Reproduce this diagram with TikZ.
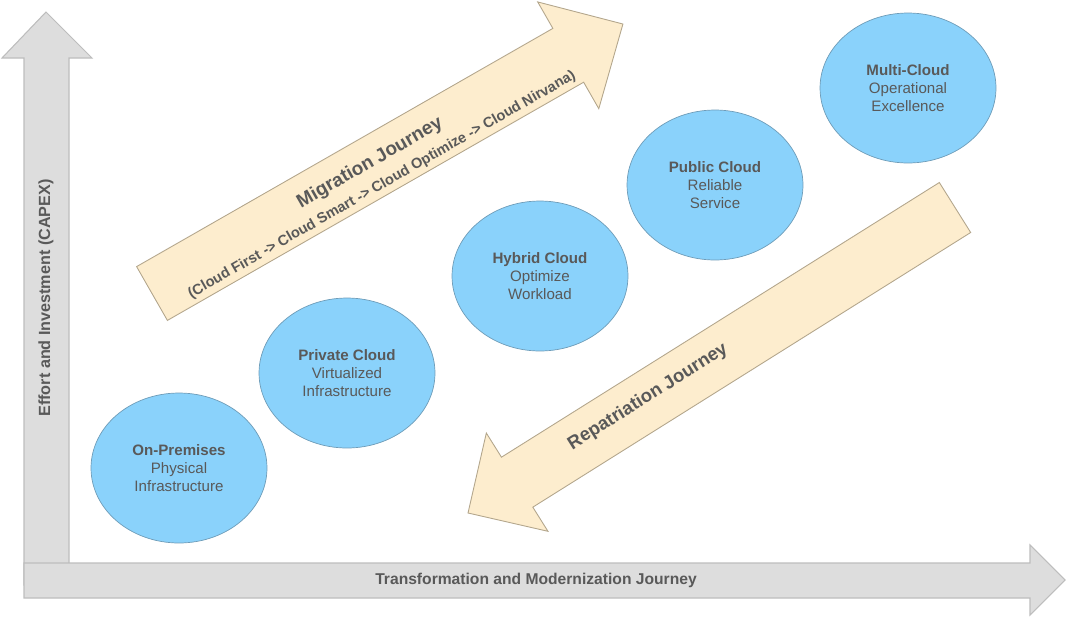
\documentclass[tikz,border=0pt]{standalone}
\usepackage{fontspec}
\setmainfont{Liberation Sans}
\usetikzlibrary{shapes.geometric}
\definecolor{axisgray}{HTML}{DDDDDD}
\definecolor{axisedge}{HTML}{BDBDBD}
\definecolor{cloudblue}{HTML}{8AD2FB}
\definecolor{cloudedge}{HTML}{6E9CB8}
\definecolor{journeyfill}{HTML}{FDEDCE}
\definecolor{journeyedge}{HTML}{B3A68C}
\definecolor{labelgray}{HTML}{595959}

\begin{document}
\begin{tikzpicture}[x=0.02cm,y=-0.02cm,
	axisarrow/.style={fill=axisgray,draw=axisedge,line width=0.6pt},
	journey/.style={fill=journeyfill,draw=journeyedge,line width=0.5pt},
	cloud/.style={ellipse,fill=cloudblue,draw=cloudedge,line width=0.4pt,
		minimum width=3.52cm,minimum height=3cm,inner sep=0pt,align=center,
		text=labelgray,font=\fontsize{8.6}{10.2}\selectfont},
	journeylabel/.style={text=labelgray,inner sep=0pt,font=\bfseries}]
	\useasboundingbox (0,0) rectangle (1067,616);

	% axes
	\draw[axisarrow](24,585)--(24,58)--(2,58)--(46,12)--(92,58)--(69,58)--(69,585)--cycle;
	\draw[axisarrow](24,563)--(1030,563)--(1030,545)--(1065,580)--(1030,615)--(1030,598)--(24,598)--cycle;
	\node[journeylabel,rotate=90,font=\fontsize{9.2}{11}\selectfont\bfseries](effort) at (46,298){Effort and Investment (CAPEX)};
	\node[journeylabel,font=\fontsize{8.9}{11}\selectfont\bfseries](modern) at (536,580){Transformation and Modernization Journey};

	% migration arrow
	\begin{scope}[shift={(152,293.5)},rotate=29.78]
		\draw[journey](0,-31)--(479.6,-31)--(479.6,-61.5)--(542.6,0)--(479.6,61.5)--(479.6,31)--(0,31)--cycle;
	\end{scope}
	\node[journeylabel,rotate=29.78,font=\fontsize{10.8}{12}\selectfont\bfseries](migtitle) at (370,163){Migration Journey};
	\node[journeylabel,rotate=29.78,font=\fontsize{8.3}{10}\selectfont\bfseries](migsteps) at (382,185){(Cloud First -> Cloud Smart -> Cloud Optimize -> Cloud Nirvana)};

	% repatriation arrow
	\begin{scope}[shift={(955,207.5)},rotate=212.1]
		\draw[journey](0,-29.5)--(516.9,-29.5)--(516.9,-58)--(574.9,0)--(516.9,58)--(516.9,29.5)--(0,29.5)--cycle;
	\end{scope}
	\node[journeylabel,rotate=32.1,font=\fontsize{10.5}{12}\selectfont\bfseries](repat) at (648,397){Repatriation Journey};

	% cloud stages
	\node[cloud](onprem) at (179,468){\textbf{On-Premises}\\Physical\\Infrastructure};
	\node[cloud](private) at (347,373){\textbf{Private Cloud}\\Virtualized\\Infrastructure};
	\node[cloud](hybrid) at (540,276){\textbf{Hybrid Cloud}\\Optimize\\Workload};
	\node[cloud](public) at (715,185){\textbf{Public Cloud}\\Reliable\\Service};
	\node[cloud](multi) at (908,88){\textbf{Multi-Cloud}\\Operational\\Excellence};
\end{tikzpicture}
\end{document}
